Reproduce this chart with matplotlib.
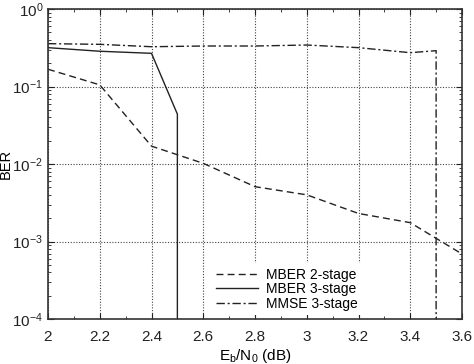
import matplotlib
matplotlib.use("Agg")
import matplotlib.pyplot as plt
from matplotlib.ticker import MultipleLocator, LogLocator, NullFormatter

plt.rcParams['font.family'] = ['Liberation Sans', 'DejaVu Sans']
plt.rcParams['mathtext.fontset'] = 'custom'
plt.rcParams['mathtext.rm'] = 'Liberation Sans'
plt.rcParams['mathtext.it'] = 'Liberation Sans'

# MBER 2-stage
x_mber2 = [2.0, 2.2, 2.4, 2.6, 2.8, 3.0, 3.2, 3.4, 3.6]
ber_mber2 = [0.167, 0.105, 0.017, 0.0102, 0.0051, 0.0040, 0.0023, 0.00175, 0.00069]

# MBER 3-stage (error-free after 2.5 dB)
x_mber3 = [2.0, 2.2, 2.4, 2.5, 2.5]
ber_mber3 = [0.317, 0.285, 0.268, 0.044, 1e-6]

# MMSE 3-stage (error-free after 3.5 dB)
x_mmse3 = [2.0, 2.2, 2.4, 2.6, 2.8, 3.0, 3.2, 3.4, 3.5, 3.5]
ber_mmse3 = [0.357, 0.35, 0.326, 0.333, 0.333, 0.343, 0.317, 0.273, 0.29, 1e-6]

x_ticks = [2, 2.2, 2.4, 2.6, 2.8, 3, 3.2, 3.4, 3.6]
x_ticklabels = ['2', '2.2', '2.4', '2.6', '2.8', '3', '3.2', '3.4', '3.6']

fig = plt.figure(figsize=(4.74, 3.64), dpi=100)
ax = fig.add_axes([48/474, 1 - 319/364, (462-48)/474, (319-9)/364])

ax.semilogy(x_mber2, ber_mber2, color='#222222', lw=1.0, ls=(0, (5, 3)), label='MBER 2-stage')
ax.semilogy(x_mber3, ber_mber3, color='#222222', lw=1.0, ls='-', label='MBER 3-stage')
ax.semilogy(x_mmse3, ber_mmse3, color='#222222', lw=1.0, ls=(0, (6, 2, 1.5, 2)), label='MMSE 3-stage')

ax.set_xlim(2, 3.6)
ax.set_ylim(1e-4, 1)
ax.set_xticks(x_ticks)
ax.set_xticklabels(x_ticklabels)
ax.xaxis.set_minor_locator(MultipleLocator(0.1))
ax.yaxis.set_major_locator(LogLocator(base=10, numticks=10))
ax.yaxis.set_minor_locator(LogLocator(base=10, subs=range(2, 10), numticks=10))
ax.yaxis.set_minor_formatter(NullFormatter())

ax.tick_params(which='both', direction='in', top=True, right=True, labelsize=11, colors='#222222')
ax.tick_params(which='major', length=4, width=0.8)
ax.tick_params(which='minor', length=2, width=0.6)
ax.tick_params(axis='x', pad=8)
for s in ax.spines.values():
    s.set_color('#333333')
    s.set_linewidth(1.2)

ax.xaxis.grid(True, which='major', ls=(0, (1, 1.5)), color='#444444', lw=0.8)
ax.yaxis.grid(True, which='major', ls=(0, (1, 1.5)), color='#444444', lw=0.8)
ax.yaxis.grid(False, which='minor')

ax.set_xlabel('E$_b$/N$_0$ (dB)', fontsize=11, labelpad=2)
ax.set_ylabel('BER', fontsize=10.5, labelpad=-0.5)

leg = ax.legend(loc='lower right', bbox_to_anchor=(0.775, -0.01), frameon=True, fontsize=10,
                handlelength=3.0, handletextpad=0.6, labelspacing=0.05, borderpad=0.3,
                fancybox=False)
leg.get_frame().set_edgecolor('none')
leg.get_frame().set_alpha(1)

fig.savefig('out.png', dpi=100)
